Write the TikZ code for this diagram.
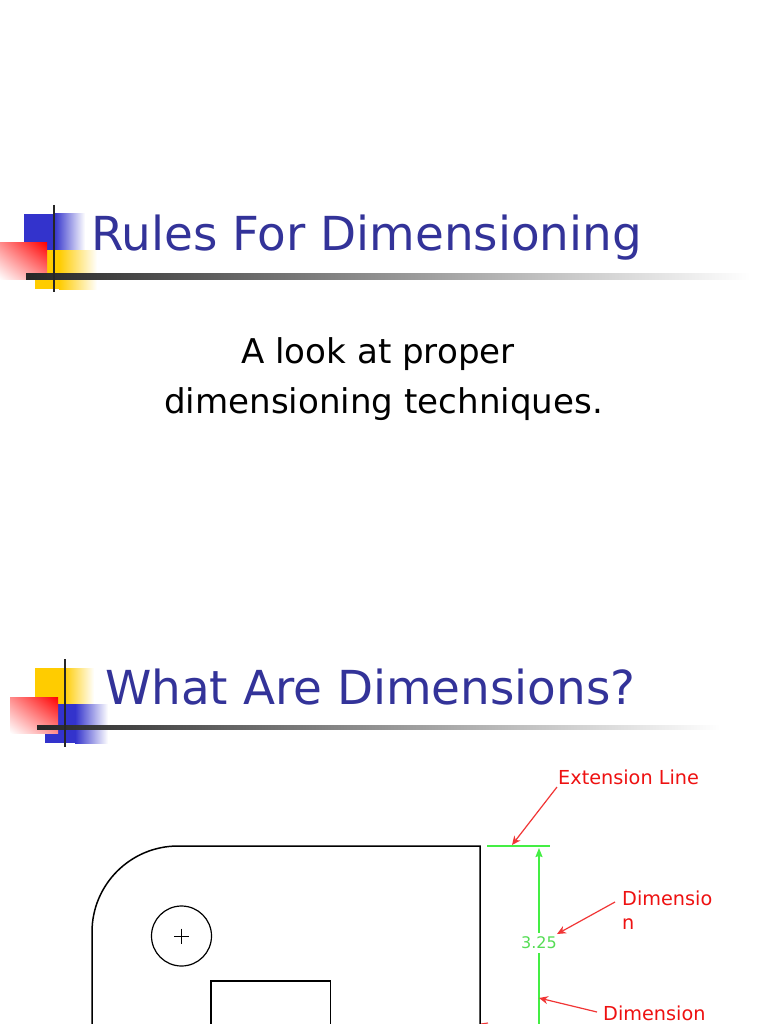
\documentclass[tikz,border=0pt]{standalone}
\usepackage{fontspec}
\setmainfont{DejaVu Sans}
\usetikzlibrary{arrows.meta,shadings}
\definecolor{titleblue}{HTML}{333399}
\definecolor{sqblue}{HTML}{3333CC}
\definecolor{sqyellow}{HTML}{FFCC00}
\definecolor{dimgreen}{HTML}{44EE44}
\definecolor{dimlabel}{HTML}{55DD55}
\definecolor{notered}{HTML}{EE1111}
\tikzset{
  slidetitle/.style={anchor=base west,inner sep=0pt,text=titleblue,font=\fontsize{46.85}{46.85}\selectfont},
  bodytext/.style={anchor=base,inner sep=0pt,text=black,font=\fontsize{34.1}{34.1}\selectfont},
  notetext/.style={anchor=base west,inner sep=0pt,text=notered,font=\fontsize{19.25}{19.25}\selectfont},
  dimtext/.style={inner sep=0pt,outer sep=4pt,text=dimlabel,font=\fontsize{16}{16}\selectfont},
  noteline/.style={draw=notered!85!white,line width=1.2pt,-{Stealth[length=9pt,width=8pt]}},
  partline/.style={draw=black,line width=1.5pt},
  dimline/.style={draw=dimgreen,line width=1.4pt},
  crossbar/.style={draw=black!85,line width=2.6pt},
  redsquare/.style={upper right=red,lower left=white,upper left=red!45!white,lower right=red!45!white}
}
\begin{document}
\begin{tikzpicture}[x=1pt,y=-1pt]
\useasboundingbox (0,0) rectangle (768,1024);
\fill[white] (0,0) rectangle (768,1024);
% slide 1 decoration
\fill[sqblue] (24,214) rectangle (55,252);
\shade[left color=sqblue,right color=white] (54,214) rectangle (85,252);
\fill[sqyellow] (35,250) rectangle (60,289);
\shade[left color=sqyellow,right color=white] (59,250) rectangle (97,289);
\shade[redsquare] (-1,242) rectangle (47,279);
\shade[left color=black!85,right color=white] (26,273) rectangle (750,279);
\draw[crossbar] (54,205) -- (54,292);
% slide 1 text
\node[slidetitle] (t1) at (91,250) {Rules For Dimensioning};
\node[bodytext] (b1) at (378,363) {A look at proper};
\node[bodytext] (b2) at (383.5,413) {dimensioning techniques.};
% slide 2 decoration
\fill[sqyellow] (35,668) rectangle (65,705);
\shade[left color=sqyellow,right color=white] (64,668) rectangle (94,705);
\fill[sqblue] (45,704) rectangle (76,743);
\shade[left color=sqblue,right color=white] (75,704) rectangle (108,743);
\shade[redsquare] (10,697) rectangle (58,733);
\shade[left color=black!85,right color=white] (37,725.5) rectangle (720,729);
\draw[crossbar] (65,659) -- (65,747);
\node[slidetitle] (t2) at (105,704) {What Are Dimensions?};
% part
\draw[partline] (92,1025) -- (92,932) arc[start angle=180,end angle=270,radius=86] -- (480,846) -- (480,1025);
\node[circle,draw=black,line width=1.2pt,minimum size=60pt,inner sep=0pt] (hole) at (181.5,936) {};
\draw[black,line width=1pt] (174,936) -- (189,936) (181.5,928.5) -- (181.5,943.5);
\draw[partline] (211,1025) -- (211,981) -- (330.5,981) -- (330.5,1025);
% dimension
\coordinate (extL) at (487,846);
\coordinate (extR) at (550,846);
\draw[dimline] (extL) -- (extR);
\node[dimtext] (dim) at (539,943) {3.25};
\coordinate (dimtop) at (539,848);
\coordinate (dimbot) at (539,1025);
\draw[dimline,-{Stealth[length=9pt,width=7pt,inset=1pt]}] (dim.north) -- (dimtop);
\draw[dimline] (dim.south) -- (dimbot);
% labels
\node[notetext] (n1) at (558,784) {Extension Line};
\node[notetext] (n2) at (622,905) {Dimensio};
\node[notetext] (n2b) at (622,929) {n};
\node[notetext] (n3) at (603,1020.5) {Dimension};
\coordinate (a1s) at (557,787);
\coordinate (a1e) at (512,845);
\coordinate (a2s) at (615,902);
\coordinate (a2e) at (557,934);
\coordinate (a3s) at (597,1012);
\coordinate (a3e) at (539,998);
\coordinate (a4s) at (488,1023);
\coordinate (a4e) at (481,1024);
\draw[noteline] (a1s) -- (a1e);
\draw[noteline] (a2s) -- (a2e);
\draw[noteline] (a3s) -- (a3e);
\draw[draw=notered!85!white,line width=1.1pt] (a4s) -- (a4e);
\end{tikzpicture}
\end{document}
